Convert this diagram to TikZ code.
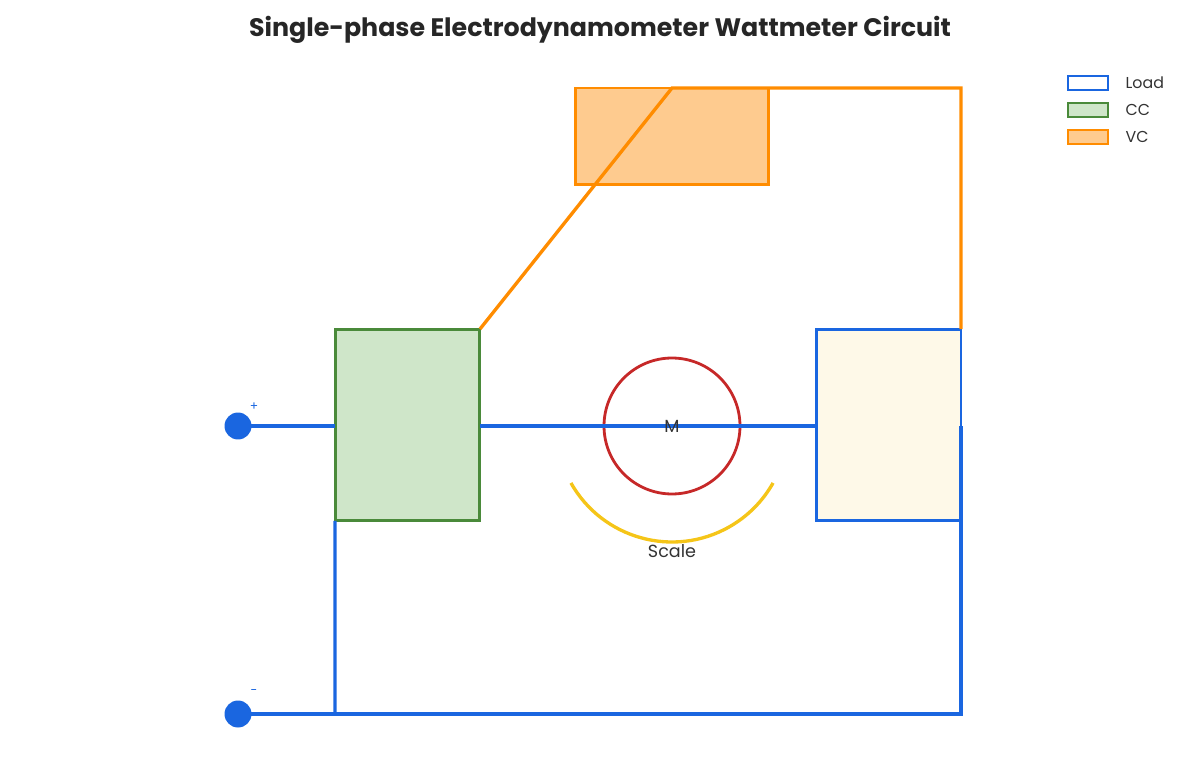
\documentclass[tikz,border=0pt]{standalone}
\usepackage{fontspec}
\setmainfont{Poppins}
\usetikzlibrary{positioning}
\definecolor{wblue}{HTML}{1A66E0}
\definecolor{wgreen}{HTML}{4A8A3A}
\definecolor{wgreenf}{HTML}{CFE6C9}
\definecolor{worange}{HTML}{FF8C00}
\definecolor{worangef}{HTML}{FECB8F}
\definecolor{wloadf}{HTML}{FEF9E8}
\definecolor{wred}{HTML}{C62828}
\definecolor{wyellow}{HTML}{F5C518}
\begin{document}
\begin{tikzpicture}[x=0.02cm,y=-0.02cm,
            box/.style={draw,line width=1.7pt,outer sep=0pt,minimum width=2.9cm,minimum height=3.84cm,inner sep=0pt},
            wire/.style={wblue,line width=1.9pt},
            vwire/.style={worange,line width=1.9pt},
            term/.style={circle,fill=wblue,minimum size=0.54cm,inner sep=0pt},
            lbl/.style={text=wblue,font=\scriptsize},
            key/.style={draw,line width=1.6pt,minimum width=0.8cm,minimum height=0.28cm,inner sep=0pt},
            every node/.style={align=center}]
  \useasboundingbox (0,0) rectangle (1200,763);
  \node[font=\Large\bfseries,text=black!85] (title) at (600,30) {Single-phase Electrodynamometer Wattmeter Circuit};

  \node[box,draw=wgreen,fill=wgreenf] (cc) at (407.5,425) {};
  \node[box,draw=wblue,fill=wloadf] (load) at (888.5,425) {};
  \node[box,draw=worange,fill=worangef,minimum width=3.88cm,minimum height=1.94cm] (vc) at (672,136.5) {};
  \node[circle,draw=wred,line width=1.6pt,minimum size=2.72cm,inner sep=0pt] (m) at (672,426) {};

  \node[term] (tp) at (238,426) {};
  \node[term] (tn) at (238,714) {};
  \node[lbl] (plus) at (254,407) {+};
  \node[lbl] (minus) at (254,692) {-};

  \coordinate (vtop) at (672,88);
  \coordinate (vcorner) at (961,88);
  \coordinate (nbot) at (335,714);
  \coordinate (rbot) at (961,714);

  % current path
  \draw[wire] (tp.center) -- (tp.center -| cc.west);
  \draw[wire] (tp.center -| cc.east) -- (tp.center -| load.west);
  \draw[wire] (tn.center) -- (nbot) -- (rbot) -- (tp.center -| rbot);
  \draw[wire] (cc.south west) -- (nbot);
  % voltage path
  \draw[vwire] (cc.north east) -- (vtop) -- (vcorner) -- (load.north east);

  \node[text=black!80] (mlabel) at (672,426) {M};
  \draw[wyellow,line width=1.9pt] (m.center) ++(150.6:116) arc[start angle=150.6,end angle=29.4,radius=116];
  \node[text=black!80] (scale) at (672,551) {Scale};

  % legend
  \node[key,draw=wblue,fill=white] (k1) at (1088,83) {};
  \node[key,draw=wgreen,fill=wgreenf] (k2) at (1088,110) {};
  \node[key,draw=worange,fill=worangef] (k3) at (1088,137) {};
  \node[right=0.2cm of k1,font=\small,text=black!80] {Load};
  \node[right=0.2cm of k2,font=\small,text=black!80] {CC};
  \node[right=0.2cm of k3,font=\small,text=black!80] {VC};
\end{tikzpicture}
\end{document}
